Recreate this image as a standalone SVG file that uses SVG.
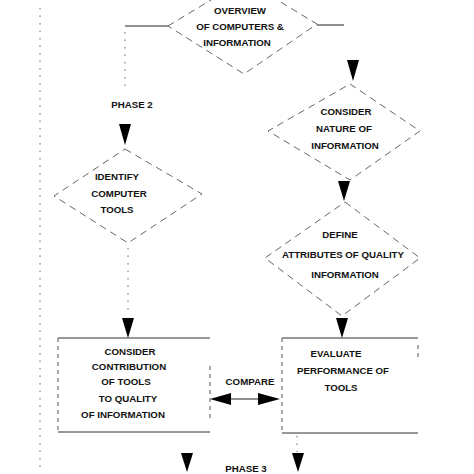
<svg xmlns="http://www.w3.org/2000/svg" width="474" height="474" viewBox="0 0 474 474">
<style>
  .t{font-family:"Liberation Sans",Arial,sans-serif;font-size:9.7px;font-weight:bold;fill:#111;text-anchor:middle}
  .dia{fill:none;stroke:#555;stroke-width:0.9;stroke-dasharray:7 5}
  .box{fill:none;stroke:#333;stroke-width:1}
  .side{fill:none;stroke:#444;stroke-width:0.9;stroke-dasharray:4 4}
  .ln{fill:none;stroke:#222;stroke-width:1}
  .dot{fill:none;stroke:#555;stroke-width:0.9;stroke-dasharray:1.5 6}
  .ah{fill:#000}
</style>
<rect width="474" height="474" fill="#fff"/>
<g id="connectors">
  <line class="dot" x1="40" y1="8" x2="40" y2="470"/>
  <line class="ln" x1="125" y1="26" x2="168" y2="26"/>
  <line class="ln" x1="317" y1="25" x2="344" y2="25"/>
  <line class="dot" x1="125" y1="32" x2="125" y2="92"/>
  <polygon class="ah" points="119,124 131,124 125,145"/>
  <polygon class="ah" points="347,60 359,60 353,81"/>
  <polygon class="ah" points="338,181 350,181 344,201"/>
  <line class="dot" x1="128" y1="248" x2="128" y2="314"/>
  <polygon class="ah" points="122,318 134,318 128,338"/>
  <polygon class="ah" points="336,318 348,318 342,338"/>
  <line class="ln" x1="228" y1="399" x2="262" y2="399" stroke-width="1.5"/>
  <polygon class="ah" points="210,399 231,393 231,405"/>
  <polygon class="ah" points="280,399 258,393 258,405"/>
  <line class="dot" x1="297" y1="436" x2="297" y2="452"/>
  <polygon class="ah" points="181,453 193,453 187,472"/>
  <polygon class="ah" points="292,453 304,453 298,472"/>
</g>
<g id="overview">
  <polygon class="dia" points="168,26 244,-20 317,24 244,74"/>
  <text class="t" x="240" y="14">OVERVIEW</text>
  <text class="t" x="240" y="30">OF COMPUTERS &amp;</text>
  <text class="t" x="237" y="46">INFORMATION</text>
</g>
<g id="phase2">
  <text class="t" x="132" y="108">PHASE 2</text>
</g>
<g id="consider-nature">
  <polygon class="dia" points="350,84 420,131 350,180 268,131"/>
  <text class="t" x="346" y="115">CONSIDER</text>
  <text class="t" x="344" y="132">NATURE OF</text>
  <text class="t" x="345" y="149">INFORMATION</text>
</g>
<g id="identify-tools">
  <polygon class="dia" points="125,149 202,194 128,243 54,196"/>
  <text class="t" x="117" y="180">IDENTIFY</text>
  <text class="t" x="119" y="197">COMPUTER</text>
  <text class="t" x="117" y="213">TOOLS</text>
</g>
<g id="define-attributes">
  <polygon class="dia" points="345,202 420,258 342,316 265,258"/>
  <text class="t" x="340" y="238">DEFINE</text>
  <text class="t" x="343" y="258">ATTRIBUTES OF QUALITY</text>
  <text class="t" x="345" y="278">INFORMATION</text>
</g>
<g id="consider-contribution">
  <line class="box" x1="58" y1="338" x2="210" y2="338"/>
  <line class="box" x1="58" y1="432" x2="210" y2="432"/>
  <line class="side" x1="58" y1="338" x2="58" y2="432"/>
  <line class="side" x1="210" y1="366" x2="210" y2="420"/>
  <text class="t" x="130" y="355">CONSIDER</text>
  <text class="t" x="129" y="370">CONTRIBUTION</text>
  <text class="t" x="126" y="385">OF TOOLS</text>
  <text class="t" x="128" y="402">TO QUALITY</text>
  <text class="t" x="123" y="418">OF INFORMATION</text>
</g>
<g id="compare">
  <text class="t" x="250" y="385">COMPARE</text>
</g>
<g id="evaluate">
  <line class="box" x1="282" y1="338" x2="418" y2="338"/>
  <line class="box" x1="282" y1="433" x2="418" y2="433"/>
  <line class="side" x1="282" y1="338" x2="282" y2="433"/>
  <line class="side" x1="418" y1="345" x2="418" y2="360"/>
  <text class="t" x="336" y="357">EVALUATE</text>
  <text class="t" x="343" y="374">PERFORMANCE OF</text>
  <text class="t" x="341" y="391">TOOLS</text>
</g>
<g id="phase3">
  <text class="t" x="246" y="472">PHASE 3</text>
</g>
</svg>
